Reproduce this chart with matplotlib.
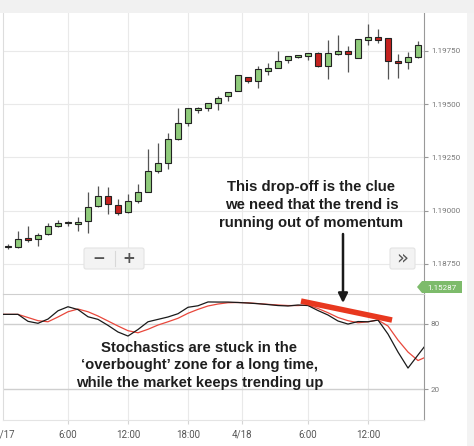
import matplotlib
matplotlib.use("Agg")
import matplotlib.pyplot as plt
import matplotlib.patches as mpatches
import matplotlib.transforms as mtransforms
import numpy as np

# hourly EUR/USD candles, hour 0 = 4/17 0:00
hours = np.arange(42)
opens = [1.18829, 1.18829, 1.18872, 1.18867, 1.18890, 1.18928, 1.18949, 1.18937,
         1.18951, 1.19022, 1.19069, 1.19026, 1.18994, 1.19045, 1.19087, 1.19186,
         1.19223, 1.19336, 1.19411, 1.19472, 1.19481, 1.19505, 1.19538, 1.19561,
         1.19627, 1.19608, 1.19655, 1.19669, 1.19706, 1.19720, 1.19725, 1.19739,
         1.19678, 1.19735, 1.19749, 1.19716, 1.19800, 1.19814, 1.19810, 1.19702,
         1.19697, 1.19720]
highs = [1.18843, 1.18904, 1.18928, 1.18895, 1.18942, 1.18956, 1.18951, 1.18970,
         1.19087, 1.19115, 1.19111, 1.19054, 1.19078, 1.19125, 1.19289, 1.19317,
         1.19364, 1.19481, 1.19481, 1.19486, 1.19505, 1.19538, 1.19556, 1.19636,
         1.19627, 1.19678, 1.19692, 1.19749, 1.19725, 1.19730, 1.19739, 1.19744,
         1.19800, 1.19824, 1.19772, 1.19805, 1.19875, 1.19852, 1.19810, 1.19735,
         1.19744, 1.19796]
lows = [1.18820, 1.18825, 1.18853, 1.18834, 1.18886, 1.18923, 1.18928, 1.18904,
        1.18895, 1.19017, 1.18984, 1.18979, 1.18989, 1.19036, 1.19087, 1.19176,
        1.19195, 1.19331, 1.19397, 1.19458, 1.19467, 1.19472, 1.19514, 1.19561,
        1.19599, 1.19575, 1.19636, 1.19669, 1.19692, 1.19716, 1.19706, 1.19674,
        1.19617, 1.19730, 1.19650, 1.19716, 1.19777, 1.19786, 1.19617, 1.19622,
        1.19664, 1.19716]
closes = [1.18834, 1.18867, 1.18862, 1.18886, 1.18928, 1.18942, 1.18940, 1.18947,
          1.19017, 1.19069, 1.19031, 1.18989, 1.19045, 1.19087, 1.19186, 1.19223,
          1.19336, 1.19411, 1.19481, 1.19481, 1.19505, 1.19528, 1.19556, 1.19636,
          1.19608, 1.19664, 1.19669, 1.19702, 1.19725, 1.19730, 1.19739, 1.19678,
          1.19739, 1.19749, 1.19735, 1.19805, 1.19814, 1.19800, 1.19702, 1.19692,
          1.19720, 1.19777]

# stochastic oscillator, hour -1 .. 42
stoch_hours = np.arange(-1, 43)
stoch_k = [88.6, 88.6, 88.6, 82.2, 80.4, 84.3, 91.9, 95.6, 93.0, 86.4, 84.0,
           78.5, 72.4, 68.7, 74.7, 81.8, 84.0, 86.2, 89.2, 95.1, 96.5, 100.0,
           99.9, 99.9, 99.5, 99.0, 98.4, 97.6, 96.7, 96.3, 97.2, 96.7, 92.1,
           88.0, 82.5, 79.7, 82.0, 81.8, 83.4, 70.5, 54.0, 39.3, 51.3, 63.2]
stoch_d = [88.6, 88.6, 88.6, 85.7, 82.8, 81.8, 86.2, 91.0, 93.5, 91.0, 87.1,
           82.5, 77.9, 73.6, 71.7, 74.9, 78.8, 81.8, 85.0, 89.6, 93.2, 96.3,
           98.1, 99.3, 99.5, 99.2, 98.5, 97.8, 97.2, 96.7, 96.7, 97.2, 94.0,
           90.1, 85.7, 82.8, 80.9, 81.8, 83.4, 77.9, 65.0, 54.0, 46.2, 50.3]

# hand-drawn "drop-off" marker on the oscillator
drop_hours = [29.3, 38.4]
drop_values = [100.8, 83.4]

# the date boundaries sit a little off the hour grid on this chart
time_ticks = [6, 12, 18, 23.4, 30, 36]
time_labels = ["6:00", "12:00", "18:00", "4/18", "6:00", "12:00"]
first_date_pos, first_date_label = -0.3, "4/17"
price_ticks = [1.18750, 1.19000, 1.19250, 1.19500, 1.19750]
stoch_ticks = [20, 80]

W, H = 474, 446
fig = plt.figure(figsize=(W / 100, H / 100), dpi=100)
fig.patch.set_facecolor("white")

tick_font = dict(family="Roboto", size=5.8, color="#777777")
grid_col = "#e9e9e9"

# price panel
ax = fig.add_axes([3 / W, 1 - 294 / H, 421 / W, 281 / H])
ax.set_xlim(-0.5, 41.6)
ax.set_ylim(1.18609, 1.19927)

up = np.array(closes) >= np.array(opens)
ax.vlines(hours, lows, highs, color="#555555", lw=0.9, zorder=2)
body_lo = np.minimum(opens, closes)
body_h = np.maximum(np.abs(np.array(closes) - np.array(opens)), 0.00004)
ax.bar(hours, body_h, bottom=body_lo, width=0.6,
       color=np.where(up, "#8fcb7b", "#c4221f"), edgecolor="#222222",
       linewidth=0.8, zorder=3)

ax.set_xticks(time_ticks)
ax.set_xticklabels([])
ax.set_yticks(price_ticks)
ax.set_yticklabels([f"{p:.5f}" for p in price_ticks], **tick_font)
ax.yaxis.tick_right()
ax.tick_params(axis="x", length=0)
ax.tick_params(axis="y", length=3, color="#999999", pad=2)
ax.grid(True, color=grid_col, lw=0.8)
ax.set_axisbelow(True)
for side in ["top", "bottom"]:
    ax.spines[side].set_visible(False)
ax.spines["left"].set_color("#dddddd")
ax.spines["right"].set_color("#999999")

# stochastic panel
ax2 = fig.add_axes([3 / W, 1 - 420 / H, 421 / W, 126 / H])
ax2.set_xlim(-0.5, 41.6)
ax2.set_ylim(-8.4, 107.3)
ax2.plot(stoch_hours, stoch_d, color="#e8473b", lw=0.9, zorder=3)
ax2.plot(stoch_hours, stoch_k, color="#1a1a1a", lw=0.9, zorder=4)
ax2.plot(drop_hours, drop_values, color="#e8381f", lw=4,
         solid_capstyle="butt", zorder=5)
for v in stoch_ticks:
    ax2.axhline(v, color="#cfcfcf", lw=1.0, zorder=1)

ax2.set_xticks(time_ticks)
ax2.set_xticklabels(time_labels, family="Roboto", size=7, color="#555555")
ax2.set_yticks(stoch_ticks)
ax2.set_yticklabels([str(v) for v in stoch_ticks], **tick_font)
ax2.yaxis.tick_right()
ax2.tick_params(axis="x", length=3, color="#d5d5d5", pad=4)
ax2.tick_params(axis="y", length=3, color="#999999", pad=2)
ax2.grid(True, axis="x", color=grid_col, lw=0.8)
ax2.set_axisbelow(True)
ax2.spines["top"].set_color("#cfcfcf")
ax2.spines["bottom"].set_color("#e4e4e4")
ax2.spines["left"].set_color("#dddddd")
ax2.spines["right"].set_color("#999999")

# first date label lies just left of the visible range
trans = mtransforms.blended_transform_factory(ax2.transData, ax2.transAxes)
ax2.text(first_date_pos, -0.115, first_date_label, transform=trans,
         ha="center", va="center", family="Roboto", size=7, color="#555555",
         clip_on=False)

# overlay in pixel coords for the UI bits and the notes
ov = fig.add_axes([0, 0, 1, 1])
ov.set_xlim(0, W)
ov.set_ylim(H, 0)
ov.axis("off")
ov.patch.set_alpha(0)

ov.add_patch(mpatches.Rectangle((0, 0), W, 13, color="#f1f1f1", lw=0))
ov.add_patch(mpatches.Rectangle((467, 13), 7, H - 13, color="#f3f3f3", lw=0))

# zoom buttons
ov.add_patch(mpatches.FancyBboxPatch((84, 248), 60, 21,
             boxstyle="round,pad=0,rounding_size=2",
             fc="#f3f3f3", ec="#e3e3e3", lw=0.8))
ov.plot([115, 115], [251, 266], color="#d8d8d8", lw=0.8)
ov.text(99, 258.5, "\u2212", ha="center", va="center", size=11,
        weight="bold", color="#555555")
ov.text(129, 258.5, "+", ha="center", va="center", size=11,
        weight="bold", color="#555555")
ov.add_patch(mpatches.FancyBboxPatch((390, 248), 25, 21,
             boxstyle="round,pad=0,rounding_size=2",
             fc="#f3f3f3", ec="#e3e3e3", lw=0.8))
ov.text(402.5, 258, "\u00bb", ha="center", va="center", size=14,
        color="#555555")

# last value tag
ov.add_patch(mpatches.Polygon([(417, 287), (422, 281), (462, 281), (462, 293),
                               (422, 293)], closed=True, fc="#7dbb6b", lw=0))
ov.text(442, 287.5, "1.15287", ha="center", va="center", color="white",
        family="Roboto", size=5.8)

note_font = dict(family="Liberation Sans", weight="bold", size=10.7,
                 color="#1e1e1e", ha="center", va="center", linespacing=1.35)
ov.text(311.5, 205, "This drop-off is the clue\nwe need that the trend is\n"
        "running out of momentum", **note_font)
ov.text(199.5, 365.5, "Stochastics are stuck in the\n"
        "\u2018overbought\u2019 zone for a long time,\n"
        "while the market keeps trending up", **note_font)

ov.annotate("", xy=(343, 303), xytext=(343, 234),
            arrowprops=dict(arrowstyle="-|>", lw=1.8, color="#1a1a1a",
                            mutation_scale=14, shrinkA=0, shrinkB=0))

plt.savefig("out.png", dpi=100)
plt.close()
